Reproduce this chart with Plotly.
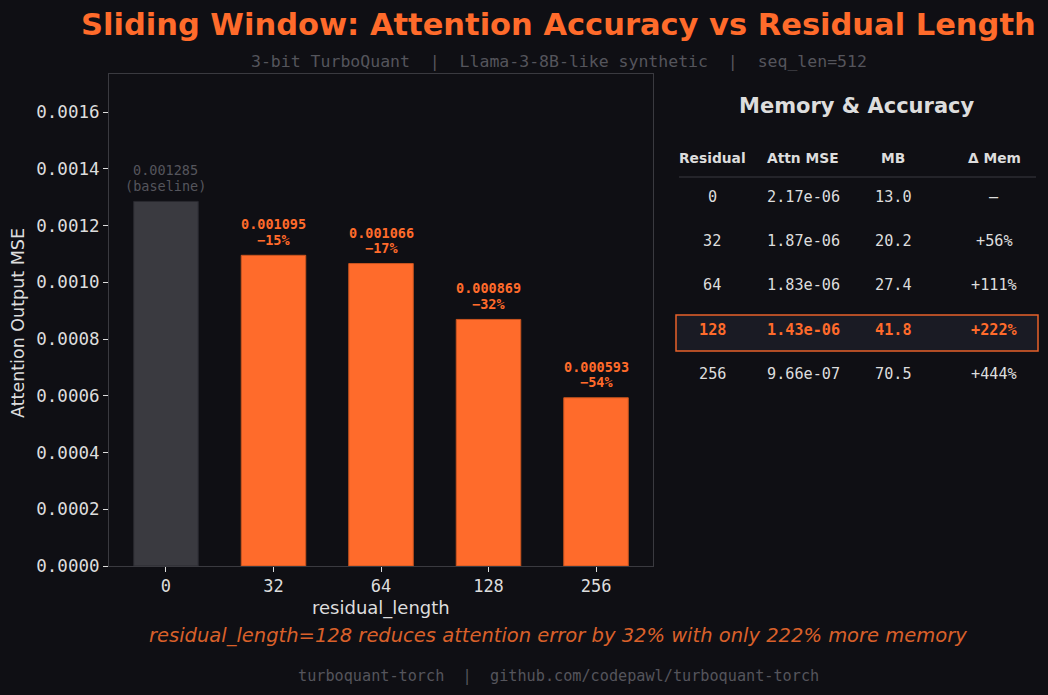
import plotly.graph_objects as go

# ---- data ----
residual_lengths = ["0", "32", "64", "128", "256"]
output_mse = [0.001285, 0.001095, 0.001066, 0.000869, 0.000593]
reduction_labels = ["(baseline)", "−15%", "−17%", "−32%", "−54%"]

table_headers = ["Residual", "Attn MSE", "MB", "Δ Mem"]
table_residual = ["0", "32", "64", "128", "256"]
table_attn_mse = ["2.17e-06", "1.87e-06", "1.83e-06", "1.43e-06", "9.66e-07"]
table_mb = ["13.0", "20.2", "27.4", "41.8", "70.5"]
table_delta_mem = ["—", "+56%", "+111%", "+222%", "+444%"]
highlight_row = 3

# ---- style ----
W, H = 1048, 695
L, R, T, B = 109, 653, 74, 566
BG = "#0f0f14"
ORANGE = "#ff6b2b"
GRAY_BAR = "#3a3a40"
TXT = "#dddddd"
DIM = "#55555c"
MONO = "DejaVu Sans Mono"
SANS = "DejaVu Sans"


def px_x(px):
    return (px - L) / (R - L)


def px_y(py):
    return (B - py) / (B - T)


colors = [GRAY_BAR] + [ORANGE] * (len(output_mse) - 1)
edges = ["#2a2a30"] + ["#c9541f"] * (len(output_mse) - 1)

fig = go.Figure()
fig.add_trace(go.Bar(
    x=residual_lengths, y=output_mse, width=0.6,
    marker=dict(color=colors, line=dict(color=edges, width=1)),
    hoverinfo="skip", showlegend=False,
))

ann = []
# bar value labels (x given as category index), two lines as separate annotations
for i, (v, lab) in enumerate(zip(output_mse, reduction_labels)):
    if i == 0:
        f = dict(family=MONO, size=13.5, color=DIM)
        t1, t2 = f"{v:.6f}", lab
    else:
        f = dict(family=MONO, size=13.5, color=ORANGE)
        t1, t2 = f"<b>{v:.6f}</b>", f"<b>{lab}</b>"
    ann.append(dict(x=i, y=v, xref="x", yref="y", yanchor="middle", yshift=31,
                    text=t1, showarrow=False, font=f))
    ann.append(dict(x=i, y=v, xref="x", yref="y", yanchor="middle", yshift=15.5,
                    text=t2, showarrow=False, font=f))

# titles
ann.append(dict(x=px_x(558), y=px_y(24), xref="paper", yref="paper", showarrow=False,
                text="<b>Sliding Window: Attention Accuracy vs Residual Length</b>",
                font=dict(family=SANS, size=30.5, color=ORANGE), xanchor="center", yanchor="middle"))
ann.append(dict(x=px_x(559), y=px_y(61), xref="paper", yref="paper", showarrow=False,
                text="3-bit TurboQuant  |  Llama-3-8B-like synthetic  |  seq_len=512",
                font=dict(family=MONO, size=16.5, color=DIM), xanchor="center", yanchor="middle"))
# axis titles
ann.append(dict(x=px_x(18), y=px_y(323), xref="paper", yref="paper", showarrow=False,
                text="Attention Output MSE", textangle=-90,
                font=dict(family=SANS, size=17.5, color=TXT), xanchor="center", yanchor="middle"))
ann.append(dict(x=px_x(381), y=px_y(608), xref="paper", yref="paper", showarrow=False,
                text="residual_length",
                font=dict(family=SANS, size=18, color=TXT), xanchor="center", yanchor="middle"))
# footnotes
ann.append(dict(x=px_x(558), y=px_y(635), xref="paper", yref="paper", showarrow=False,
                text="<i>residual_length=128 reduces attention error by 32% with only 222% more memory</i>",
                font=dict(family=SANS, size=19.5, color="#d9602a"), xanchor="center", yanchor="middle"))
ann.append(dict(x=px_x(558), y=px_y(676), xref="paper", yref="paper", showarrow=False,
                text="turboquant-torch  |  github.com/codepawl/turboquant-torch",
                font=dict(family=MONO, size=15.2, color=DIM), xanchor="center", yanchor="middle"))

# table
ann.append(dict(x=px_x(857), y=px_y(106), xref="paper", yref="paper", showarrow=False,
                text="<b>Memory & Accuracy</b>",
                font=dict(family=SANS, size=21, color=TXT), xanchor="center", yanchor="middle"))
col_px = [712, 803, 893, 994]
row_px = [197, 241, 285, 330, 374]
for cx, h in zip(col_px, table_headers):
    ann.append(dict(x=px_x(cx), y=px_y(158), xref="paper", yref="paper", showarrow=False,
                    text=f"<b>{h}</b>", font=dict(family=SANS, size=13.8, color=TXT),
                    xanchor="center", yanchor="middle"))
columns = [table_residual, table_attn_mse, table_mb, table_delta_mem]
for r, ry in enumerate(row_px):
    for cx, col in zip(col_px, columns):
        if r == highlight_row:
            ann.append(dict(x=px_x(cx), y=px_y(ry), xref="paper", yref="paper", showarrow=False,
                            text=f"<b>{col[r]}</b>", font=dict(family=MONO, size=15.2, color=ORANGE),
                            xanchor="center", yanchor="middle"))
        else:
            ann.append(dict(x=px_x(cx), y=px_y(ry), xref="paper", yref="paper", showarrow=False,
                            text=col[r], font=dict(family=MONO, size=15.2, color=TXT),
                            xanchor="center", yanchor="middle"))

shapes = [
    dict(type="line", xref="paper", yref="paper", x0=px_x(679), x1=px_x(1036),
         y0=px_y(177), y1=px_y(177), line=dict(color="#3a3a40", width=1)),
    dict(type="rect", xref="paper", yref="paper", x0=px_x(676), x1=px_x(1038),
         y0=px_y(351), y1=px_y(315), fillcolor="#1a1b24",
         line=dict(color="#e8622a", width=1.5), layer="below"),
]

fig.update_layout(
    width=W, height=H,
    margin=dict(l=L, r=W - R, t=T, b=H - B, pad=0),
    paper_bgcolor=BG, plot_bgcolor=BG,
    annotations=ann, shapes=shapes,
    xaxis=dict(type="category", range=[-0.53, 4.53], showgrid=False, zeroline=False,
               showline=True, mirror=True, linecolor="#3a3a40", linewidth=1,
               ticks="outside", ticklen=5, tickcolor=TXT,
               tickfont=dict(family=MONO, size=17, color=TXT)),
    yaxis=dict(range=[0, 0.001734], dtick=0.0002, tickformat=".4f", showgrid=False, zeroline=False,
               showline=True, mirror=True, linecolor="#3a3a40", linewidth=1,
               ticks="outside", ticklen=5, tickcolor=TXT,
               tickfont=dict(family=MONO, size=17.5, color=TXT)),
)

fig.write_html(
    "out.html",
    config={"displayModeBar": False},
    post_script="document.body.style.margin='0';document.body.style.background='#0f0f14';",
)
